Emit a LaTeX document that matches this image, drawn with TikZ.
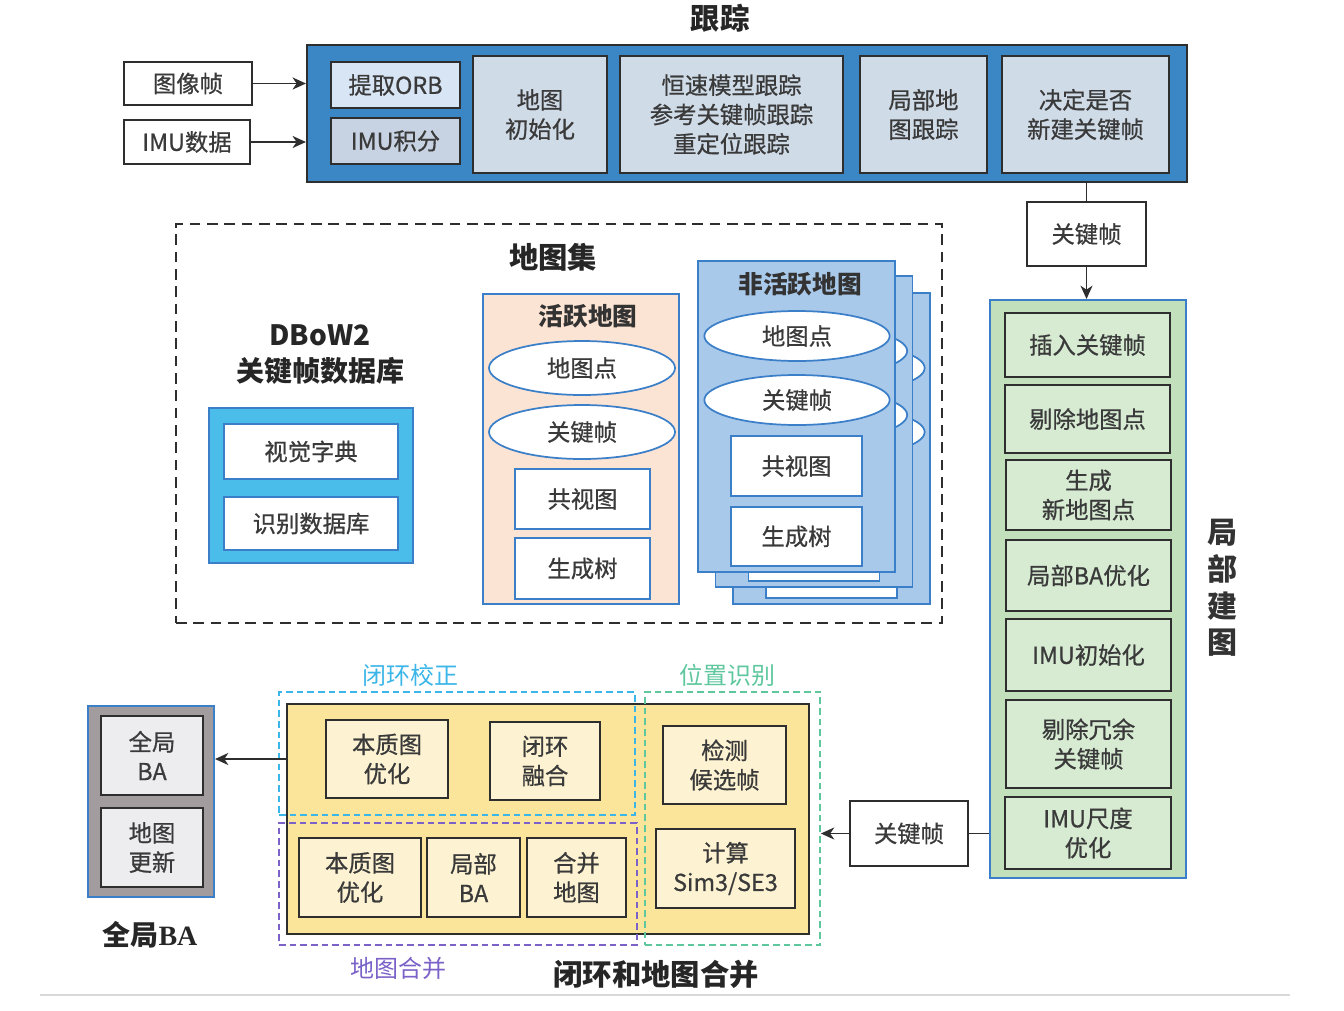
\documentclass[tikz,border=0pt]{standalone}
\usepackage{fontspec}
\setmainfont{Noto Sans CJK SC}
\newfontfamily\boxfont[FakeBold=0.7]{Noto Sans CJK SC}
\newfontfamily\serifbf{Liberation Serif}
\usetikzlibrary{fit,shapes.geometric,arrows.meta}
\definecolor{dline}{HTML}{2E2E2E}
\definecolor{txt}{HTML}{3A3A3A}
\definecolor{trkblue}{HTML}{3B87C6}
\definecolor{trkin}{HTML}{D0DBE8}
\definecolor{trkorb}{HTML}{D8E5F5}
\definecolor{trkimu}{HTML}{C7D3E3}
\definecolor{bborder}{HTML}{3C7FC9}
\definecolor{greenout}{HTML}{C2E0BC}
\definecolor{greenin}{HTML}{D6EBD2}
\definecolor{peach}{HTML}{FCE4D4}
\definecolor{inact}{HTML}{A9C9EA}
\definecolor{cyanbox}{HTML}{4BBDEA}
\definecolor{yel}{HTML}{FBE59A}
\definecolor{cream}{HTML}{FDF3D2}
\definecolor{gbagray}{HTML}{A29C9F}
\definecolor{gbain}{HTML}{EDEDEF}
\definecolor{dashblue}{HTML}{3CB6E8}
\definecolor{dashpurple}{HTML}{7A62C8}
\definecolor{dashgreen}{HTML}{5FC79E}
\newcommand\fsbox{\boxfont\fontsize{17.5}{22}\selectfont}
% box with centred text: style, name, corner1, corner2, text
\newcommand\tbox[5]{%
  \node[#1, fit={#3 #4}] (#2) {};
  \node[align=center, font=\fsbox, inner sep=0pt] (#2t) at (#2.center) {#5};
}
\newcommand\inactsheet[3]{%
  \node[inactsheet, fit={(698+#1,261+#2)(895+#1,572+#2)}] (sh#3) {};
  \node[ellin] (ip#3) at (797+#1,336+#2) {};
  \node[ellin] (ik#3) at (797+#1,400+#2) {};
  \node[wbox, fit={(731+#1,436+#2)(862+#1,496+#2)}] (ic#3) {};
  \node[wbox, fit={(731+#1,507+#2)(862+#1,566+#2)}] (it#3) {};
}
\tikzset{
  every node/.style={text=txt},
  bx/.style={draw=dline, line width=1.7pt, inner sep=0pt},
  trkout/.style={draw=dline, line width=1.6pt, fill=trkblue, inner sep=0pt},
  tin/.style={bx, fill=trkin},
  plain/.style={bx, fill=white, line width=1.5pt},
  lmbox/.style={bx, fill=greenin},
  lmout/.style={draw=bborder, line width=1.5pt, fill=greenout, inner sep=0pt},
  wbox/.style={draw=bborder, line width=1.3pt, fill=white, inner sep=0pt},
  ellact/.style={ellipse, draw=bborder, line width=1.3pt, fill=white, minimum width=139.5pt, minimum height=40.5pt, inner sep=0pt, font=\fsbox},
  ellin/.style={ellipse, draw=bborder, line width=1.3pt, fill=white, minimum width=139pt, minimum height=37.5pt, inner sep=0pt, font=\fsbox},
  inactsheet/.style={draw=bborder, line width=1.3pt, fill=inact, inner sep=0pt},
  cbox/.style={bx, fill=cream},
  gbox/.style={bx, fill=gbain},
  dbox/.style={dashed, dash pattern=on 5pt off 3pt, line width=1.3pt, inner sep=0pt},
  arr/.style={draw=dline, line width=1.4pt, -{Stealth[length=10pt,width=9pt,inset=3pt]}},
  ln/.style={draw=dline, line width=1.4pt},
  ttl/.style={font=\fontsize{22}{24}\selectfont\bfseries, text=black!85},
  sub/.style={font=\fontsize{18.5}{22}\selectfont\bfseries, text=black!80},
  col/.style={font=\fontsize{18}{22}\selectfont},
}
\begin{document}
\begin{tikzpicture}[x=0.75pt,y=-0.75pt]
\useasboundingbox (0,0) rectangle (1344,1010);
% ---------- Tracking ----------
\node[ttl] (ttrk) at (720,18) {跟踪};
\node[trkout, fit={(307,45)(1187,182)}] (trk) {};
\tbox{bx, fill=trkorb}{orb}{(331,62)}{(460,108)}{提取ORB}
\tbox{bx, fill=trkimu}{imuint}{(331,118)}{(460,164)}{IMU积分}
\tbox{tin}{minit}{(473,56)}{(607,173)}{地图\\初始化}
\tbox{tin}{cvm}{(620,56)}{(843,173)}{恒速模型跟踪\\参考关键帧跟踪\\重定位跟踪}
\tbox{tin}{lmt}{(860,56)}{(987,173)}{局部地\\图跟踪}
\tbox{tin}{dec}{(1002,56)}{(1169,173)}{决定是否\\新建关键帧}
\tbox{plain}{img}{(124,62)}{(252,105)}{图像帧}
\tbox{plain}{imu}{(124,120)}{(250,164)}{IMU数据}
\draw[arr] (img.east) -- (img.east -| trk.west);
\draw[arr] (imu.east) -- (imu.east -| trk.west);
% ---------- keyframe to local mapping ----------
\tbox{plain}{kf1}{(1027,202)}{(1146,266)}{关键帧}
\node[lmout, fit={(990,300)(1186,878)}] (lm) {};
\draw[ln] (kf1.north |- trk.south) -- (kf1.north);
\draw[arr] (kf1.south) -- (kf1.south |- lm.north);
\tbox{lmbox}{lm1}{(1005,313)}{(1170,377)}{插入关键帧}
\tbox{lmbox}{lm2}{(1005,385)}{(1170,453)}{剔除地图点}
\tbox{lmbox}{lm3}{(1006,460)}{(1171,530)}{生成\\新地图点}
\tbox{lmbox}{lm4}{(1006,540)}{(1171,611)}{局部BA优化}
\tbox{lmbox}{lm5}{(1006,619)}{(1171,691)}{IMU初始化}
\tbox{lmbox}{lm6}{(1006,700)}{(1171,788)}{剔除冗余\\关键帧}
\tbox{lmbox}{lm7}{(1005,797)}{(1171,869)}{IMU尺度\\优化}
\node[align=center, font=\fontsize{22.5}{27.5}\selectfont\bfseries, text=black!80] (tlm) at (1222,588) {局\\部\\建\\图};
% ---------- Atlas ----------
\node[draw=dline, dashed, dash pattern=on 8pt off 5pt, line width=1.5pt, inner sep=0pt, fit={(176,224)(942,623)}] (atlas) {};
\node[ttl] (tatlas) at (553,257) {地图集};
\node[align=center, font=\fontsize{21}{27}\selectfont\bfseries, text=black!85] (tdb) at (320,355) {DBoW2\\关键帧数据库};
\node[draw=bborder, line width=1.5pt, fill=cyanbox, inner sep=0pt, fit={(209,408)(413,563)}] (dbow) {};
\tbox{wbox, line width=1.6pt}{vd}{(224,424)}{(398,479)}{视觉字典}
\tbox{wbox, line width=1.6pt}{rdb}{(224,497)}{(398,550)}{识别数据库}
% active map
\node[draw=bborder, line width=1.3pt, fill=peach, inner sep=0pt, fit={(483,294)(679,604)}] (act) {};
\node[sub] (tact) at (588,316) {活跃地图};
\node[ellact] (amp) at (582,368) {地图点};
\node[ellact] (akf) at (582,432) {关键帧};
\tbox{wbox}{acv}{(515,469)}{(650,529)}{共视图}
\tbox{wbox}{ast}{(515,538)}{(650,599)}{生成树}
% inactive maps (stack)
\inactsheet{35}{32}{c}
\inactsheet{17.5}{15}{b}
\node[inactsheet, fit={(698,261)(895,572)}] (ina) {};
\node[sub] (tina) at (800,284) {非活跃地图};
\node[ellin] (imp) at (797,336) {地图点};
\node[ellin] (ikf) at (797,400) {关键帧};
\tbox{wbox}{icv}{(731,436)}{(862,496)}{共视图}
\tbox{wbox}{ist}{(731,507)}{(862,566)}{生成树}
% ---------- Loop closing and map merging ----------
\node[bx, fill=yel, line width=1.8pt, fit={(287,704)(809,934)}] (loop) {};
\tbox{cbox}{eo1}{(326,720)}{(448,798)}{本质图\\优化}
\tbox{cbox}{lf}{(490,722)}{(600,800)}{闭环\\融合}
\tbox{cbox}{eo2}{(299,838)}{(421,917)}{本质图\\优化}
\tbox{cbox}{lba}{(427,838)}{(520,917)}{局部\\BA}
\tbox{cbox}{mm}{(527,838)}{(626,917)}{合并\\地图}
\tbox{cbox}{det}{(663,726)}{(786,804)}{检测\\候选帧}
\tbox{cbox}{sim}{(656,829)}{(795,908)}{计算\\Sim3/SE3}
\node[dbox, draw=dashblue, fit={(279,692)(635,815)}] (lc) {};
\node[dbox, draw=dashpurple, fit={(279,823)(637,945)}] (mg) {};
\node[dbox, draw=dashgreen, fit={(645,692)(820,945)}] (pr) {};
\node[col, text=dashblue] (tlc) at (410,675) {闭环校正};
\node[col, text=dashgreen] (tpr) at (727,675) {位置识别};
\node[col, text=dashpurple] (tmg) at (398,968) {地图合并};
\node[ttl] (tloop) at (656,974) {闭环和地图合并};
\tbox{plain}{kf2}{(850,801)}{(968,866)}{关键帧}
\draw[ln] (lm.west |- kf2.east) -- (kf2.east);
\draw[arr] (kf2.west) -- (kf2.west -| pr.east);
% ---------- Global BA ----------
\node[draw=bborder, line width=1.5pt, fill=gbagray, inner sep=0pt, fit={(88,706)(214,897)}] (gba) {};
\tbox{gbox}{gba1}{(101,716)}{(203,795)}{全局\\BA}
\tbox{gbox}{gba2}{(101,808)}{(203,887)}{地图\\更新}
\node[font=\fontsize{21}{24}\selectfont\bfseries, text=black!85] (tgba) at (150,935) {全局{\serifbf\bfseries BA}};
\coordinate (lcs) at (loop.west |- eo1.center);
\draw[arr] (lcs) -- (lcs -| gba.east);
% faint baseline
\draw[black!15, line width=0.8pt] (40,995) -- (1290,995);
\end{tikzpicture}
\end{document}
